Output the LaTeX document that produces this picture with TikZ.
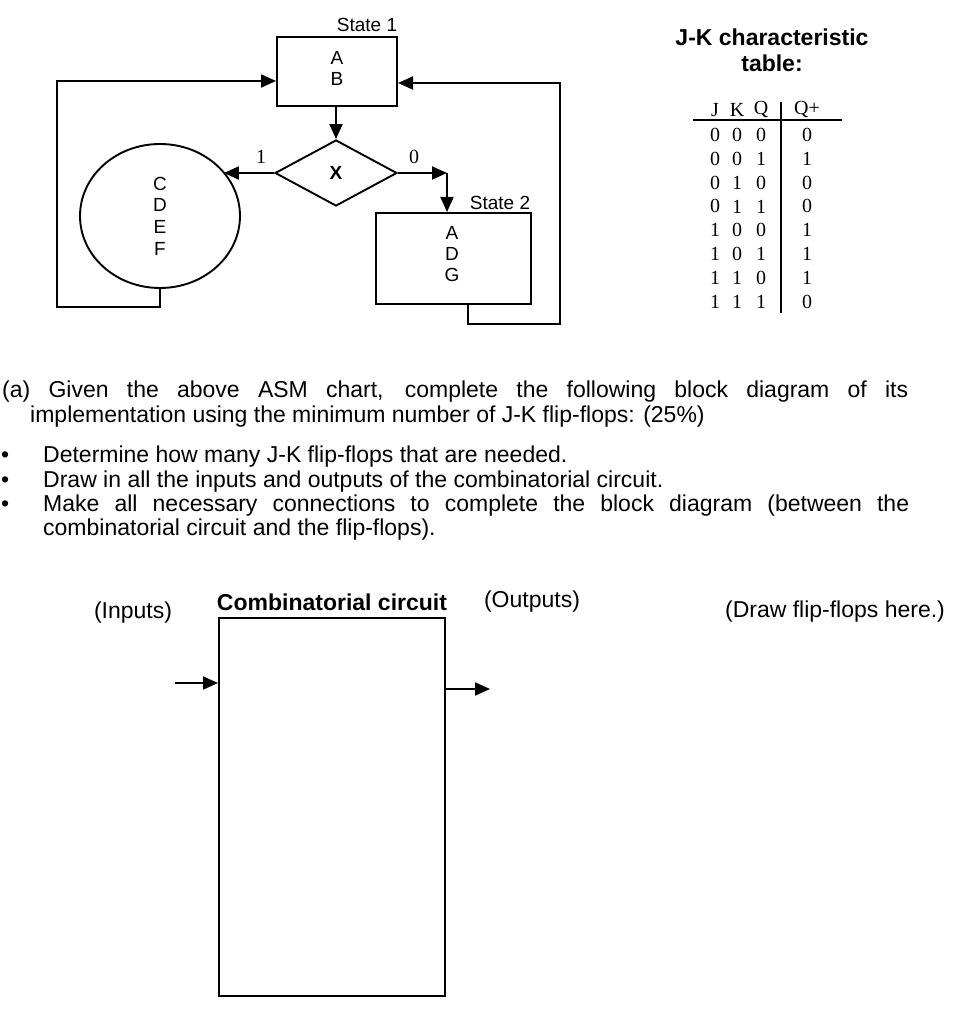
\documentclass[tikz,border=0pt]{standalone}
\usepackage{fontspec}
\setmainfont{Liberation Sans}
\newfontfamily\tms{Liberation Serif}
\usetikzlibrary{arrows.meta,shapes.geometric}
\tikzset{
  ln/.style={line width=1.9pt},
  arr/.style={ln,-{Triangle[length=15pt,width=13pt]}},
  boxx/.style={draw,line width=2pt,rectangle,inner sep=0pt},
  lett/.style={font=\fontsize{19}{21}\selectfont,inner sep=0pt,align=center},
  stl/.style={font=\fontsize{19}{20}\selectfont,inner sep=0pt},
  lbl/.style={font=\fontsize{23}{26}\selectfont,inner sep=0pt},
  blbl/.style={font=\bfseries\fontsize{23}{26}\selectfont,inner sep=0pt},
  body/.style={font=\fontsize{23}{24.5}\selectfont,inner sep=0pt,anchor=base west},
  tcell/.style={font=\tms\fontsize{20}{22}\selectfont,inner sep=0pt},
  tline/.style={line width=1.7pt}
}
\begin{document}
\begin{tikzpicture}[x=1pt,y=-1pt]
\useasboundingbox (0,0) rectangle (965,1024);
\fill[white] (0,0) rectangle (965,1024);

% ---------- ASM chart ----------
\node[boxx,minimum width=120pt,minimum height=69pt] (s1) at (337,71.5) {};
\node[lett] (s1t) at (337,68.5) {A\\B};
\node[stl] (s1l) at (367,25) {State 1};

\node[draw,ln,shape=diamond,minimum width=122pt,minimum height=66pt,inner sep=0pt,font=\bfseries\fontsize{19}{20}\selectfont] (d) at (336,173) {X};

\node[draw,ln,shape=ellipse,minimum width=160pt,minimum height=144pt,inner sep=0pt,lett,font=\fontsize{19}{21.7}\selectfont] (c) at (160,216) {C\\D\\E\\F};

\node[boxx,minimum width=155pt,minimum height=91pt] (s2) at (453.5,258.5) {};
\node[lett] (s2t) at (452,254) {A\\D\\G};
\node[stl] (s2l) at (500,203) {State 2};

\draw[arr] (s1.south -| d.north) -- (d.north);
\draw[arr] (d.west) -- (d.west -| c.35);
\node[tcell] (one) at (261,157) {1};
\coordinate (j) at (447,173);
\draw[arr] (d.east) -- (j);
\draw[arr] (j) -- (j |- s2.north);
\node[tcell] (zero) at (414,157) {0};

\coordinate (lb) at (57,307);
\draw[arr] (c.south) -- (c.south |- lb) -- (lb) -- (57,81) -- ([yshift=-9.5pt]s1.west);
\coordinate (rb) at (560,324);
\draw[arr] ([xshift=14.5pt]s2.south) -- ([xshift=14.5pt]s2.south |- rb) -- (rb) -- (560,83) -- ([yshift=-11.5pt]s1.east);

% ---------- J-K table ----------
\node[blbl] (tt1) at (772,37) {J-K characteristic};
\node[blbl] (tt2) at (772,63) {table:};
\node[tcell] (hJ) at (715,110) {J};
\node[tcell] (hK) at (737,110) {K};
\node[tcell] (hQ) at (761,110) {Q};
\node[tcell] (hQp) at (807,110) {Q+};
\draw[tline] (693,120) -- (842,120);
\draw[tline] (781,102) -- (781,313);
\foreach \j/\k/\q/\qp [count=\i from 0] in {0/0/0/0,0/0/1/1,0/1/0/0,0/1/1/0,1/0/0/1,1/0/1/1,1/1/0/1,1/1/1/0}{
  \node[tcell] (r\i a) at (715,135+23.8*\i) {\j};
  \node[tcell] (r\i b) at (737,135+23.8*\i) {\k};
  \node[tcell] (r\i c) at (761,135+23.8*\i) {\q};
  \node[tcell] (r\i d) at (807,135+23.8*\i) {\qp};
}

% ---------- question text ----------
\node[body] (p1) at (2,397) {\makebox[906pt][s]{(a) Given the above ASM chart, complete the following block diagram of its}};
\node[body] (p2) at (30,422) {implementation using the minimum number of J-K flip-flops: (25\%)};
\node[body] (b1) at (1,462) {•};
\node[body] (b2) at (1,487) {•};
\node[body] (b3) at (1,511) {•};
\node[body] (q1) at (43,462) {Determine how many J-K flip-flops that are needed.};
\node[body] (q2) at (43,487) {Draw in all the inputs and outputs of the combinatorial circuit.};
\node[body] (q3) at (43,511) {\makebox[866pt][s]{Make all necessary connections to complete the block diagram (between the}};
\node[body] (q4) at (43,535) {combinatorial circuit and the flip-flops).};

% ---------- block diagram ----------
\node[lbl] (inl) at (133,613) {(Inputs)};
\node[blbl] (ccl) at (332,602) {Combinatorial circuit};
\node[lbl] (outl) at (532,602) {(Outputs)};
\node[lbl] (ffl) at (835,612) {(Draw flip-flops here.)};
\node[boxx,minimum width=226pt,minimum height=378pt] (cc) at (332,807) {};
\coordinate (in0) at (175,683);
\draw[arr] (in0) -- (in0 -| cc.west);
\coordinate (out0) at (490,689);
\draw[arr] (out0 -| cc.east) -- (out0);
\end{tikzpicture}
\end{document}
